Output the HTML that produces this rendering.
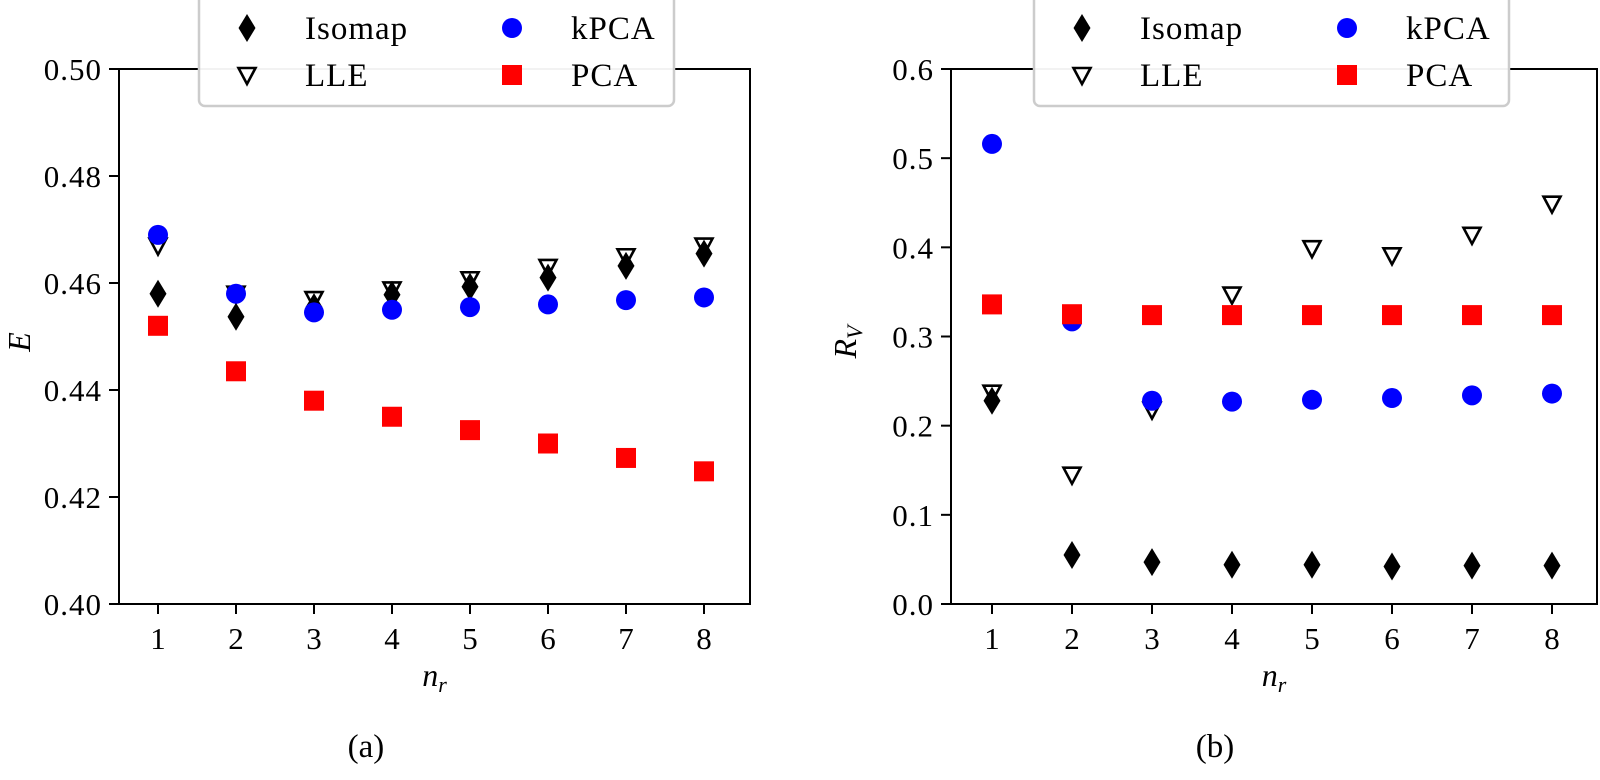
<!DOCTYPE html>
<html><head><meta charset="utf-8"><style>
html,body{margin:0;padding:0;background:#fff;}
svg{display:block;}
text{font-family:"Liberation Serif",serif;fill:#000;}
</style></head><body>
<svg id="s" width="1600" height="780" xmlns="http://www.w3.org/2000/svg"></svg>
<script>
const S=document.getElementById('s');let h='';
function dia(x,y){return `<polygon points="${x},${y-14} ${x+8.5},${y} ${x},${y+14} ${x-8.5},${y}" fill="#000"/>`;}
function tri(x,y){return `<polygon points="${x-8.5},${y-7} ${x+8.5},${y-7} ${x},${y+9}" fill="#fff" stroke="#000" stroke-width="2.6" stroke-linejoin="miter"/>`;}
function cir(x,y){return `<circle cx="${x}" cy="${y}" r="10" fill="#0000ff"/>`;}
function sq(x,y){return `<rect x="${x-10}" y="${y-10}" width="20" height="20" fill="#ff0000"/>`;}
function panel(o){
  const {L,R,T,B,x1,dx,ymin,ymax,ticks,fmt,data,legL,cap,capX,ylab}=o;
  const yv=v=>B-(v-ymin)/(ymax-ymin)*(B-T);
  const xv=i=>x1+i*dx;
  for(let i=0;i<8;i++) h+=tri(xv(i),yv(data.lle[i]));
  for(let i=0;i<8;i++) h+=dia(xv(i),yv(data.iso[i]));
  for(let i=0;i<8;i++) h+=cir(xv(i),yv(data.kpca[i]));
  for(let i=0;i<8;i++) h+=sq(xv(i),yv(data.pca[i]));
  h+=`<rect x="${L}" y="${T}" width="${R-L}" height="${B-T}" fill="none" stroke="#000" stroke-width="2"/>`;
  ticks.forEach(t=>{const y=yv(t);h+=`<line x1="${L-10}" x2="${L}" y1="${y}" y2="${y}" stroke="#000" stroke-width="2"/>`;
    h+=`<text x="${L-17}" y="${y+11}" font-size="31" letter-spacing="1" text-anchor="end">${fmt(t)}</text>`;});
  for(let i=0;i<8;i++){const x=xv(i);h+=`<line x1="${x}" x2="${x}" y1="${B}" y2="${B+10}" stroke="#000" stroke-width="2"/>`;
    h+=`<text x="${x}" y="${B+45}" font-size="31" text-anchor="middle">${i+1}</text>`;}
  h+=`<text x="${(L+R)/2}" y="${B+82}" font-size="32" font-style="italic" text-anchor="middle">n<tspan font-size="22" dy="6">r</tspan></text>`;
  h+=ylab;
  h+=`<text x="${capX}" y="${B+153}" font-size="33" text-anchor="middle">${cap}</text>`;
  h+=`<rect x="${legL}" y="-6" width="475" height="112" rx="6" fill="#fff" fill-opacity="0.95" stroke="#cccccc" stroke-width="2.5"/>`;
  h+=dia(legL+48,28)+tri(legL+48,75)+cir(legL+313,28)+sq(legL+313,75);
  h+=`<text x="${legL+106}" y="39" font-size="33" letter-spacing="1">Isomap</text><text x="${legL+106}" y="86" font-size="33" letter-spacing="1">LLE</text>`;
  h+=`<text x="${legL+372}" y="39" font-size="33" letter-spacing="1">kPCA</text><text x="${legL+372}" y="86" font-size="33" letter-spacing="1">PCA</text>`;
}
panel({L:119,R:750,T:69,B:604,x1:158,dx:78,ymin:0.40,ymax:0.50,ticks:[0.40,0.42,0.44,0.46,0.48,0.50],fmt:t=>t.toFixed(2),
 data:{kpca:[.469,.458,.4545,.455,.4555,.456,.4568,.4573],lle:[.467,.458,.457,.4588,.4607,.463,.465,.467],
 iso:[.458,.4537,.4555,.4578,.4593,.461,.4632,.4655],pca:[.452,.4435,.438,.435,.4325,.430,.4273,.4248]},
 legL:199,cap:'(a)',capX:366,ylab:`<text x="0" y="0" font-size="32" font-style="italic" transform="translate(30,342) rotate(-90)" text-anchor="middle">E</text>`});
panel({L:951,R:1597,T:69,B:604,x1:992,dx:80,ymin:0,ymax:0.6,ticks:[0,0.1,0.2,0.3,0.4,0.5,0.6],fmt:t=>t.toFixed(1),
 data:{kpca:[.516,.317,.228,.227,.229,.231,.234,.236],lle:[.237,.145,.218,.347,.399,.391,.414,.449],
 iso:[.228,.055,.047,.044,.044,.042,.043,.043],pca:[.336,.325,.324,.324,.324,.324,.324,.324]},
 legL:1034,cap:'(b)',capX:1215,ylab:`<text x="0" y="0" font-size="32" font-style="italic" transform="translate(856,342) rotate(-90)" text-anchor="middle">R<tspan font-size="22" dy="6">V</tspan></text>`});
S.innerHTML=h;
</script>
</body></html>
